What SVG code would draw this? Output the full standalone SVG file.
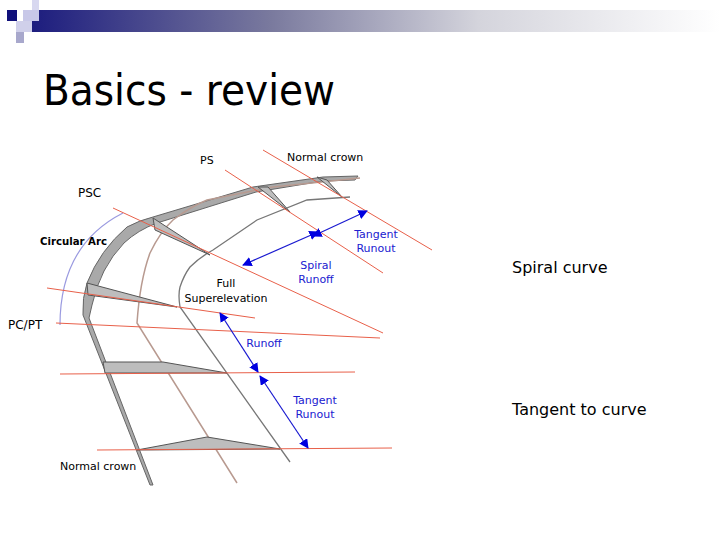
<svg xmlns="http://www.w3.org/2000/svg" width="720" height="540" viewBox="0 0 720 540">
<defs>
<linearGradient id="bar" x1="0" x2="1" y1="0" y2="0">
<stop offset="0" stop-color="#1c1c7e"/><stop offset="0.35" stop-color="#7a7a9e"/><stop offset="0.65" stop-color="#d4d4dc"/><stop offset="1" stop-color="#ffffff"/>
</linearGradient>
<marker id="ah" viewBox="0 0 10 10" refX="9" refY="5" markerWidth="8" markerHeight="8" orient="auto-start-reverse"><path d="M0,0L10,5L0,10z" fill="#0000e0"/></marker>
<style>
.r{stroke:#e8604a;stroke-width:1;fill:none}
.b{stroke:#1a1ad0;stroke-width:1.2;fill:none;marker-start:url(#ah);marker-end:url(#ah)}
.t{font-family:"DejaVu Sans",sans-serif;font-size:11px;fill:#000}
.bt{font-family:"DejaVu Sans",sans-serif;font-size:11px;fill:#2020d0;text-anchor:middle}
.sec{fill:#bdbdbd;stroke:#555;stroke-width:1}
</style>
</defs>
<rect width="720" height="540" fill="#fff"/>
<rect x="30" y="10" width="690" height="22" fill="url(#bar)"/>
<rect x="7" y="10" width="10" height="11" fill="#10107a"/>
<rect x="23" y="10" width="16" height="11" fill="#c8c8e8"/>
<rect x="32" y="0" width="7" height="10" fill="#d8d8f0"/>
<rect x="16" y="21" width="16" height="11" fill="#d0d0ea"/>
<rect x="16" y="32" width="8" height="11" fill="#a8a8cc"/>
<text x="43" y="105" font-family="DejaVu Sans,sans-serif" font-size="42" textLength="292" lengthAdjust="spacingAndGlyphs">Basics - review</text>

<path d="M60,325 Q60,245 123,213" fill="none" stroke="#9a9ae0" stroke-width="1.2"/>
<!-- outer pavement band -->
<path d="M150,485 L83,315 Q82,298 87,283 Q100,250 127,227 Q140,220 153,217 L253,187 L323,177 L358,176 L355,180 L323,181 L256,192 L157,223 Q138,230 124,243 Q100,268 92,305 L89,318 L153,485 Z" fill="#a9a9a9" stroke="#666" stroke-width="1"/>
<!-- centerline -->
<path d="M237,483 L137,323 Q140,280 150,253 Q160,232 173,220 Q190,207 207,200 L273,187 L360,178" fill="none" stroke="#b89a90" stroke-width="1.5"/>
<!-- inner edge -->
<path d="M290,462 L180,307 Q178,295 180,287 Q184,275 190,267 Q200,257 213,250 L257,220 L307,200 L350,197" fill="none" stroke="#777" stroke-width="1.3"/>
<!-- cross sections -->
<path class="sec" d="M153,218 L155,230 L210,255 Z"/>
<path class="sec" d="M87,283 L88,295 L177,307 Z"/>
<path class="sec" d="M258,187 L268,187 L290,212 Z"/>
<path class="sec" d="M317,177 L327,180 L342,197 Z"/>
<path class="sec" d="M103,362 L163,362 L227,373 L105,373 Z"/>
<path class="sec" d="M137,450 L207,437 L280,449 Z"/>
<!-- red lines -->
<line class="r" x1="263" y1="150" x2="432" y2="250"/>
<line class="r" x1="225" y1="170" x2="383" y2="273"/>
<line class="r" x1="113" y1="208" x2="383" y2="333"/>
<line class="r" x1="47" y1="288" x2="255" y2="318"/>
<line class="r" x1="56" y1="323" x2="380" y2="338"/>
<line class="r" x1="60" y1="374" x2="355" y2="372"/>
<line class="r" x1="97" y1="450" x2="392" y2="448"/>
<g id="connectors">
<line class="b" x1="313" y1="236" x2="367" y2="211"/>
<line class="b" x1="243" y1="265" x2="318" y2="232"/>
<line class="b" x1="220" y1="313" x2="258" y2="372"/>
<line class="b" x1="260" y1="376" x2="308" y2="448"/>
</g>
<text class="t" x="200" y="164" font-size="12">PS</text>
<text class="t" x="287" y="161">Normal crown</text>
<text class="t" x="78" y="197" style="font-size:12px">PSC</text>
<text class="t" x="40" y="245" font-weight="bold" textLength="67" lengthAdjust="spacingAndGlyphs">Circular Arc</text>
<text class="t" x="8" y="329" style="font-size:12px">PC/PT</text>
<text class="t" x="226" y="287" text-anchor="middle">Full</text>
<text class="t" x="226" y="302" text-anchor="middle">Superelevation</text>
<text class="bt" x="316" y="269">Spiral</text>
<text class="bt" x="316" y="283">Runoff</text>
<text class="bt" x="376" y="238">Tangent</text>
<text class="bt" x="376" y="252">Runout</text>
<text class="bt" x="264" y="347" text-anchor="start">Runoff</text>
<text class="bt" x="315" y="404">Tangent</text>
<text class="bt" x="315" y="418">Runout</text>
<text class="t" x="60" y="470">Normal crown</text>
<text class="t" x="512" y="273" style="font-size:16px">Spiral curve</text>
<text class="t" x="512" y="415" style="font-size:16px">Tangent to curve</text>
</svg>
